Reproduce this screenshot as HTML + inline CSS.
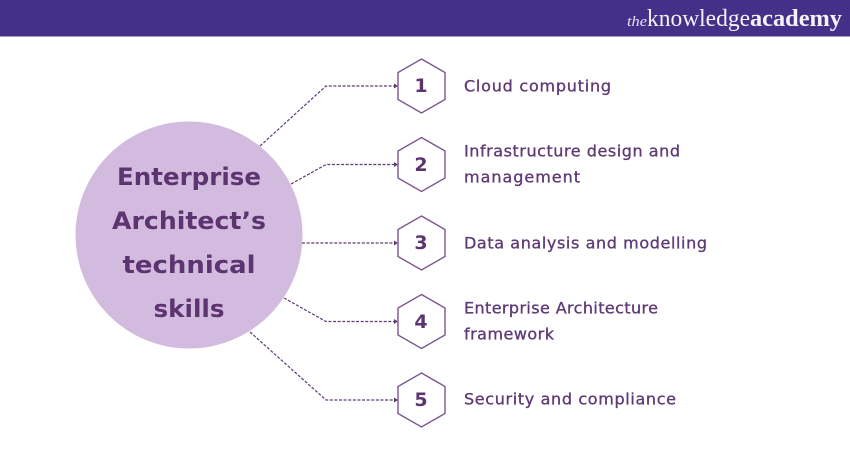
<!DOCTYPE html>
<html><head><meta charset="utf-8"><style>
html,body{margin:0;padding:0;background:#fff}
svg{display:block}
.t{font-family:"DejaVu Sans",sans-serif;font-size:16px;fill:#5f3a75;stroke:#5f3a75;stroke-width:.35}
.h{font-family:"DejaVu Sans",sans-serif;font-size:24px;font-weight:700;fill:#5c3470;text-anchor:middle}
.n{font-family:"DejaVu Sans",sans-serif;font-size:19px;font-weight:700;fill:#5c3470;text-anchor:middle}
.l{fill:none;stroke:#5f3a75;stroke-width:1.2;stroke-dasharray:3 1.6}
.x{fill:#fff;stroke:#7a5590;stroke-width:1.4}
.a{fill:#5f3a75}
</style></head><body>
<svg width="850" height="450" viewBox="0 0 850 450" xmlns="http://www.w3.org/2000/svg">
<rect width="850" height="450" fill="#fff"/>
<rect width="850" height="36.5" fill="#453089"/>
<text x="627" y="26" font-family="Liberation Serif,serif" font-style="italic" font-size="15" fill="#e6e0f0" textLength="20" lengthAdjust="spacingAndGlyphs">the</text>
<text x="647" y="26" font-family="Liberation Serif,serif" font-size="24" fill="#f4f1f8" textLength="103" lengthAdjust="spacingAndGlyphs">knowledge</text>
<text x="750" y="26" font-family="Liberation Serif,serif" font-size="24" font-weight="700" fill="#f4f1f8" textLength="92" lengthAdjust="spacingAndGlyphs">academy</text>
<circle cx="189" cy="235" r="113.5" fill="#d2bbdf"/>
<text class="h" x="189" y="185" textLength="144" lengthAdjust="spacingAndGlyphs">Enterprise</text>
<text class="h" x="189" y="229" textLength="154" lengthAdjust="spacingAndGlyphs">Architect’s</text>
<text class="h" x="189" y="273" textLength="133" lengthAdjust="spacingAndGlyphs">technical</text>
<text class="h" x="189" y="317" textLength="71" lengthAdjust="spacingAndGlyphs">skills</text>
<path class="l" d="M260 146L326 86H395"/>
<path class="l" d="M291 184L326 164.5H395"/>
<path class="l" d="M302 243H395"/>
<path class="l" d="M284 298L326 321.5H395"/>
<path class="l" d="M250 332L326 400H395"/>
<path class="a" d="M394 83.5L398 86L394 88.5Z"/>
<path class="a" d="M394 162L398 164.5L394 167Z"/>
<path class="a" d="M394 240.5L398 243L394 245.5Z"/>
<path class="a" d="M394 319L398 321.5L394 324Z"/>
<path class="a" d="M394 397.5L398 400L394 402.5Z"/>
<path class="x" d="M421.5 59L445 72.5V99.5L421.5 113L398 99.5V72.5Z"/>
<path class="x" d="M421.5 137.5L445 151V178L421.5 191.5L398 178V151Z"/>
<path class="x" d="M421.5 216L445 229.5V256.5L421.5 270L398 256.5V229.5Z"/>
<path class="x" d="M421.5 294.5L445 308V335L421.5 348.5L398 335V308Z"/>
<path class="x" d="M421.5 373L445 386.5V413.5L421.5 427L398 413.5V386.5Z"/>
<text class="n" x="421" y="92">1</text>
<text class="n" x="421" y="171">2</text>
<text class="n" x="421" y="249">3</text>
<text class="n" x="421" y="328">4</text>
<text class="n" x="421" y="406">5</text>
<text class="t" x="464" y="91.5" textLength="147" lengthAdjust="spacing">Cloud computing</text>
<text class="t" x="464" y="156.5" textLength="216" lengthAdjust="spacing">Infrastructure design and</text>
<text class="t" x="464" y="182.5" textLength="116" lengthAdjust="spacing">management</text>
<text class="t" x="464" y="248.5" textLength="243" lengthAdjust="spacing">Data analysis and modelling</text>
<text class="t" x="464" y="313.5" textLength="194" lengthAdjust="spacing">Enterprise Architecture</text>
<text class="t" x="464" y="339.5" textLength="90" lengthAdjust="spacing">framework</text>
<text class="t" x="464" y="404.5" textLength="212" lengthAdjust="spacing">Security and compliance</text>
</svg>
</body></html>
